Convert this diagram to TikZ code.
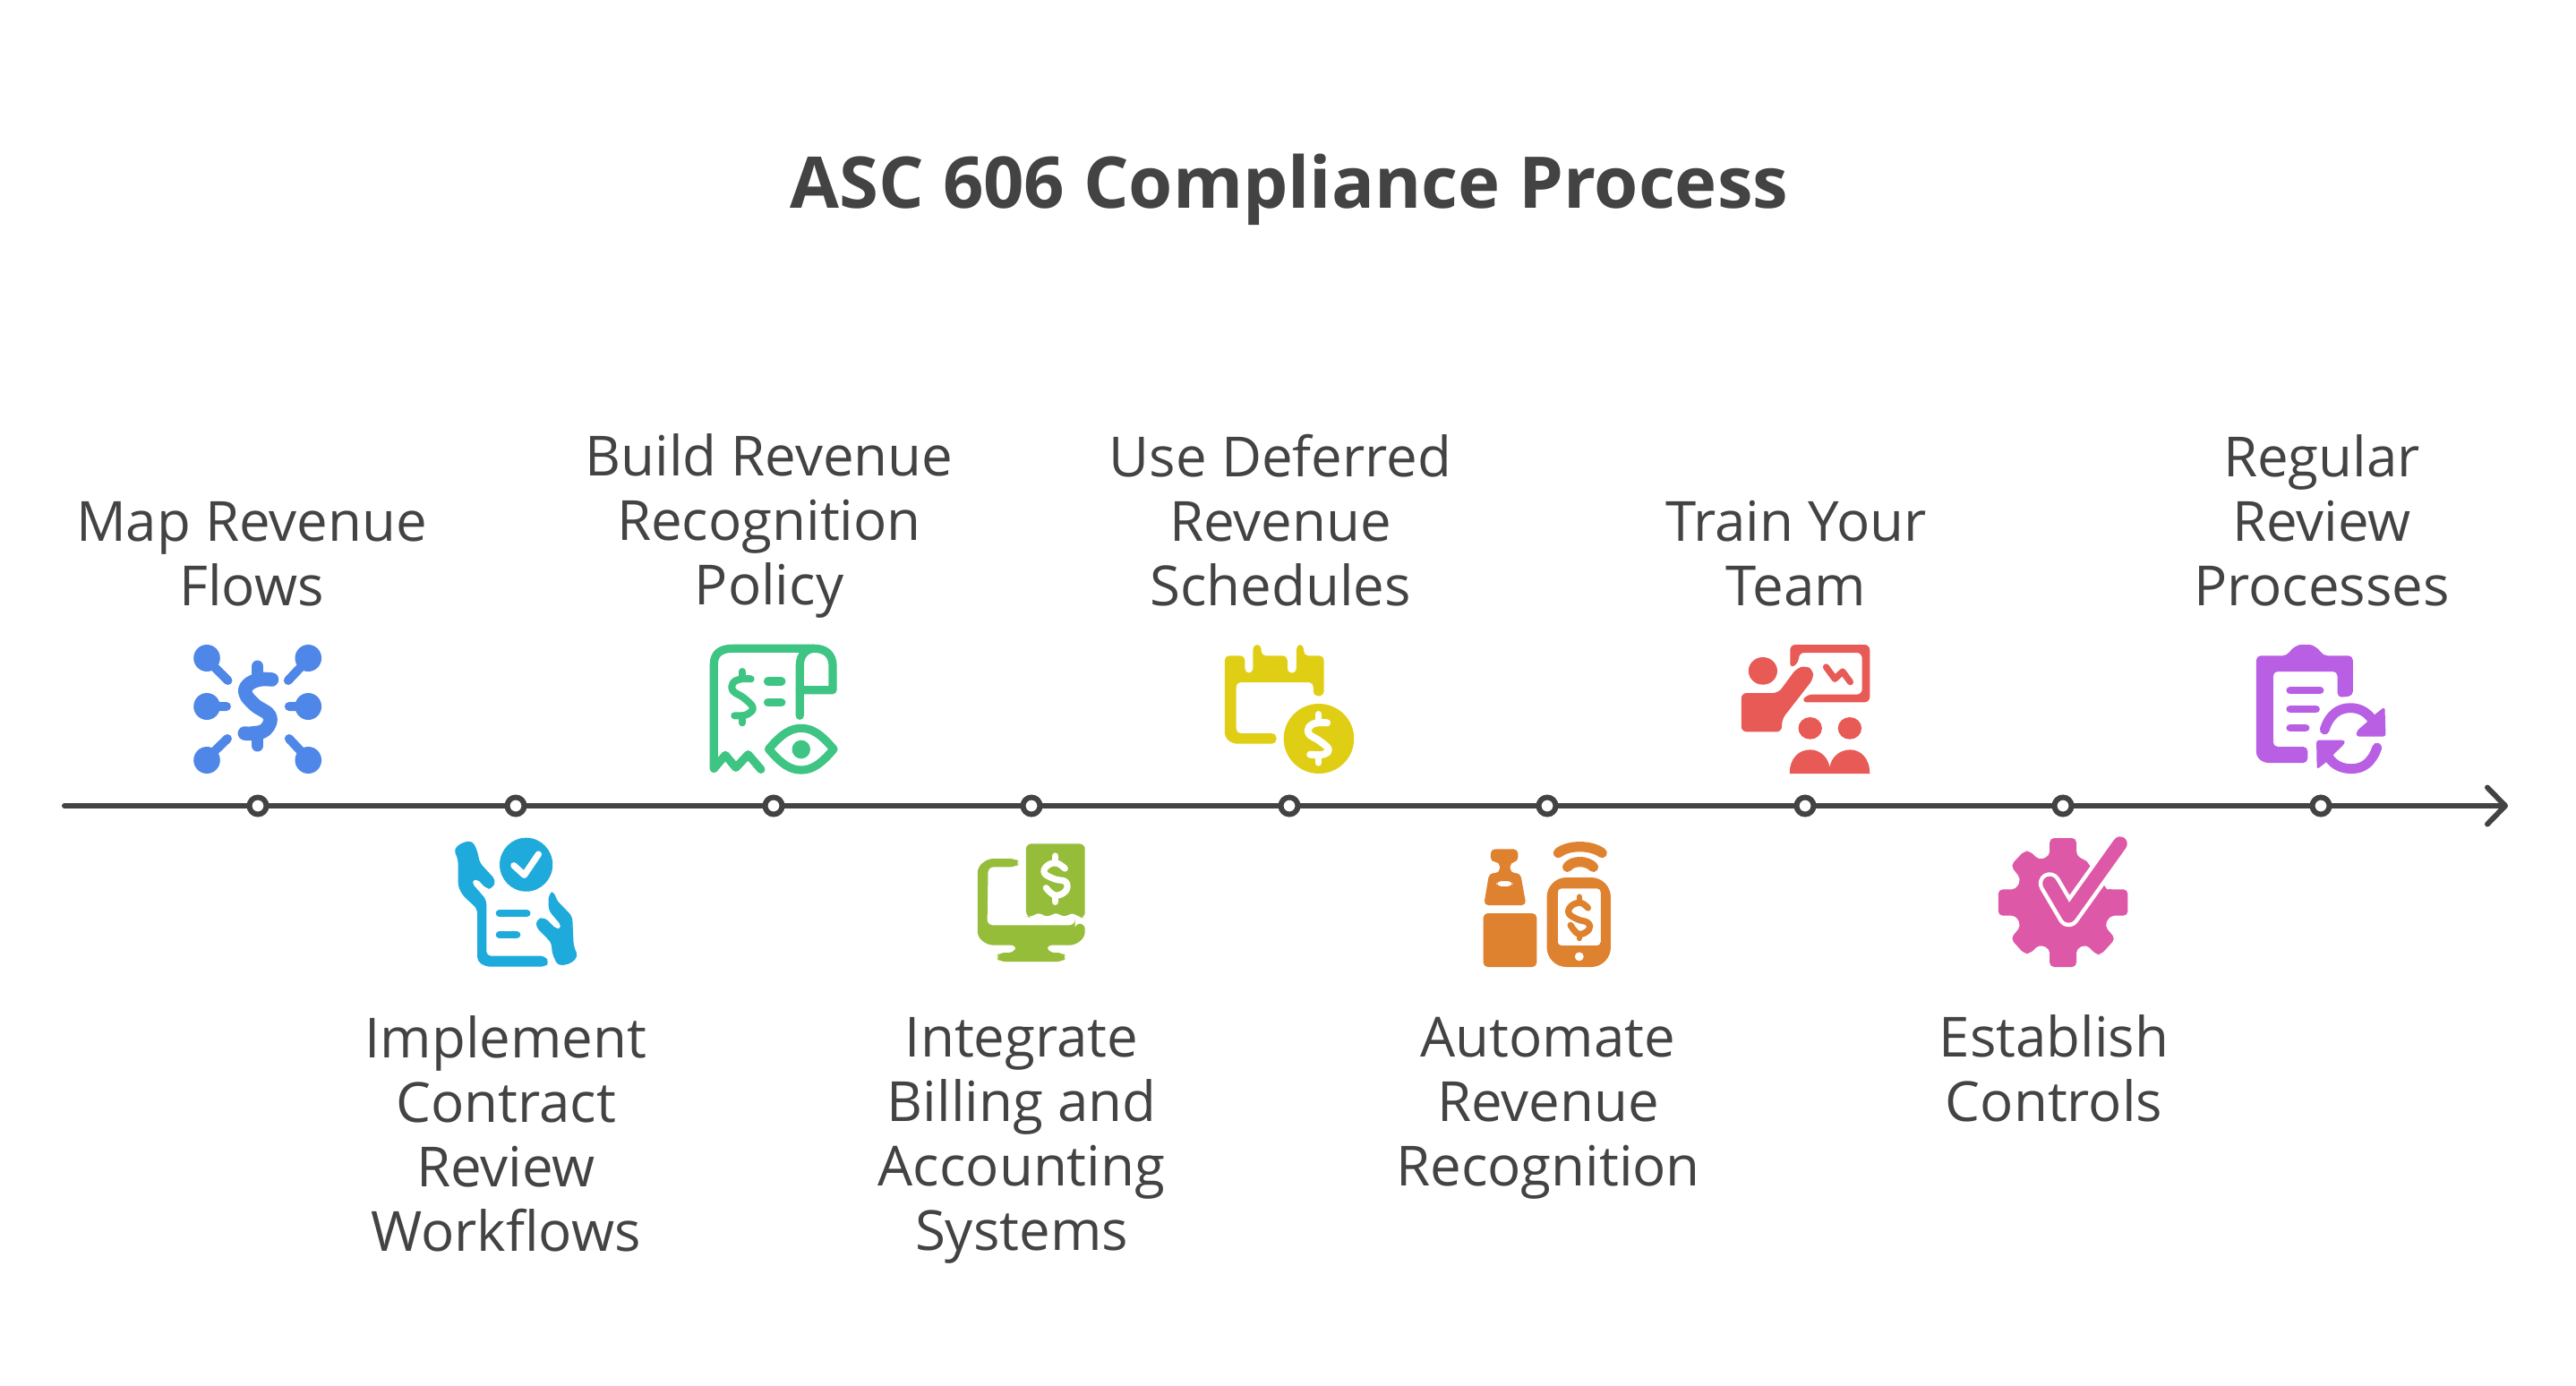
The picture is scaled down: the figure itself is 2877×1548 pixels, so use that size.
\documentclass[tikz,border=0pt]{standalone}
\usepackage{fontspec}
\setmainfont{Open Sans}
\usetikzlibrary{arrows.meta}
\definecolor{ink}{HTML}{434343}
\definecolor{cBlue}{HTML}{4F87E8}
\definecolor{cGreen}{HTML}{3EC483}
\definecolor{cCyan}{HTML}{1EAADB}
\definecolor{cLime}{HTML}{95BD3A}
\definecolor{cYellow}{HTML}{E0CE15}
\definecolor{cOrange}{HTML}{DF8230}
\definecolor{cRed}{HTML}{E85A55}
\definecolor{cPink}{HTML}{DE58A8}
\definecolor{cPurple}{HTML}{B85FE3}
\tikzset{
  lbl/.style={inner sep=0pt,align=center,text=ink,font=\fontsize{30.9}{36}\selectfont},
  ttl/.style={inner sep=0pt,text=ink,font=\fontsize{39.8}{44}\selectfont\bfseries},
  dot/.style={circle,draw=ink,fill=white,line width=3pt,minimum size=9.5pt,inner sep=0pt},
  axisline/.style={draw=ink,line width=3pt,line cap=round,-{Straight Barb[length=10pt,width=20.5pt,line width=3pt,round]}},
  zoomA/.style={shift={(180,700)},x=0.25510pt,y=-0.16667pt},
  zoomB/.style={shift={(1050,700)},x=0.25510pt,y=-0.16667pt},
  zoomC/.style={shift={(1900,700)},x=0.28699pt,y=-0.16667pt},
  st/.style={line width=#1,line cap=round,line join=round},
  rc/.style={rounded corners=#1}
}
\begin{document}
\begin{tikzpicture}[x=0.5pt,y=-0.5pt]
\useasboundingbox (0,0) rectangle (2877,1548);
\fill[white] (0,0) rectangle (2877,1548);
\node[ttl] (title) at (1440,212) {ASC 606 Compliance Process};

% axis
\coordinate (axisStart) at (72,900);
\coordinate (axisEnd) at (2801,900);
\draw[axisline] (axisStart) -- (axisEnd);
\foreach \n/\x in {1/288,2/576,3/864,4/1152,5/1440,6/1728,7/2016,8/2304,9/2592}
  \node[dot] (m\n) at (\x,900) {};

% labels
\node[lbl] (l1) at (281,619) {Map Revenue\\Flows};
\node[lbl] (l2) at (565,1266) {Implement\\Contract\\Review\\Workflows};
\node[lbl] (l3) at (859,587) {Build Revenue\\Recognition\\Policy};
\node[lbl] (l4) at (1141,1274) {Integrate\\Billing and\\Accounting\\Systems};
\node[lbl] (l5) at (1430,581) {Use Deferred\\Revenue\\Schedules};
\node[lbl] (l6) at (1729,1238) {Automate\\Revenue\\Recognition};
\node[lbl] (l7) at (2006,618) {Train Your\\Team};
\node[lbl] (l8) at (2294,1193) {Establish\\Controls};
\node[lbl] (l9) at (2593,581) {Regular\\Review\\Processes};

% icon 1: blue network dollar
\begin{scope}[zoomA]
  \fill[cBlue] (100,105) ellipse [x radius=29,y radius=45] (322,105) ellipse [x radius=29,y radius=45]
    (100,267) ellipse [x radius=29,y radius=45] (322,267) ellipse [x radius=29,y radius=45]
    (100,447) ellipse [x radius=29,y radius=45] (322,447) ellipse [x radius=29,y radius=45];
  \draw[cBlue,st=5pt] (112,128)--(146,180) (310,128)--(278,180) (115,267)--(143,267) (307,267)--(280,267)
    (112,424)--(145,375) (310,424)--(280,375);
  \draw[cBlue,st=7.8pt] plot[smooth,tension=0.7] coordinates {(242,177)(215,177)(190,195)(185,225)(205,262)(238,300)(228,345)(200,357)(183,357)};
  \draw[cBlue,st=6.8pt] (211,133)--(211,170) (211,360)--(211,398);
\end{scope}

% icon 2: green receipt
\begin{scope}[zoomA]
  \draw[cGreen,st=4.6pt] (1210,475)--(1210,125) .. controls (1210,90) and (1225,73) .. (1250,73) -- (1430,73)
     .. controls (1455,73) and (1470,95) .. (1470,130) -- (1470,212) -- (1398,212);
  \draw[cGreen,st=4.6pt] (1398,298)--(1398,130) .. controls (1398,95) and (1412,73) .. (1430,73);
  \draw[cGreen,st=4.6pt] (1210,475)--(1235,430)--(1258,472)--(1285,428)--(1313,478);
  \draw[cGreen,st=4pt] plot[smooth,tension=0.7] coordinates {(1291,175)(1270,175)(1252,188)(1252,215)(1275,238)(1295,270)(1285,292)(1270,298)(1255,298)};
  \draw[cGreen,st=4pt] (1272,150)--(1272,172) (1272,300)--(1272,322);
  \draw[cGreen,st=4.6pt] (1328,183)--(1358,183) (1328,254)--(1358,254);
  \draw[cGreen,st=4.6pt] (1330,410) .. controls (1360,355) and (1380,340) .. (1401,340) .. controls (1422,340) and (1442,355) .. (1472,410)
     .. controls (1442,465) and (1422,480) .. (1401,480) .. controls (1380,480) and (1360,465) .. (1330,410) -- cycle;
  \fill[cGreen] (1401,411) ellipse [x radius=20,y radius=31];
\end{scope}

% icon 3: cyan contract
\begin{scope}[zoomA]
  \fill[cCyan] (799,797) ellipse [x radius=58,y radius=90];
  \draw[white,st=3.6pt] (772,800)--(795,832)--(826,762);
  \fill[cCyan,rc=2.5pt] (640,745)--(660,722)--(682,717)--(693,755)--(697,790)--(733,850)--(725,878)--(712,878)--(690,842)--(678,855)--(712,915)--(712,1103)--(840,1103)--(850,1125)--(840,1139)--(712,1139)--(692,1122)--(692,945)--(660,900)--(650,870)--(650,780)--cycle;
  \draw[cCyan,st=4.4pt] (741,960)--(800,960) (741,1032)--(778,1032);
  \fill[cCyan,rc=2.5pt] (848,895)--(860,885)--(865,915)--(900,970)--(903,1070)--(913,1105)--(895,1130)--(868,1136)--(855,1090)--(855,1060)--(820,1005)--(822,980)--(838,972)--(868,1017)--(878,1005)--(848,950)--cycle;
\end{scope}

% icon 4: lime monitor
\begin{scope}[zoomB]
  \fill[cLime,rc=3pt] (188,727)--(317,727)--(317,975)--(305,975)--(290,955)--(272,975)--(253,955)--(235,975)--(215,955)--(198,975)--(188,970)--cycle;
  \draw[white,st=3.6pt] plot[smooth,tension=0.7] coordinates {(273,810)(255,792)(235,800)(228,825)(250,845)(275,855)(275,885)(252,900)(232,875)};
  \draw[white,st=3.6pt] (252,768)--(252,785) (252,905)--(252,922);
  \fill[cLime,rc=3pt] (165,777)--(175,791)--(165,805)--(105,805)--(103,1000)--(295,1000)--(295,995)--(317,995)--(317,1040)--(295,1067)--(232,1067)--(238,1092)--(268,1092)--(277,1107)--(268,1122)--(130,1122)--(122,1107)--(130,1092)--(162,1092)--(168,1067)--(105,1067)--(82,1040)--(82,805)--(105,777)--cycle;
\end{scope}

% icon 5: yellow calendar
\begin{scope}[zoomB]
  \fill[cYellow,rc=2.5pt] (623,97)--(667,97)--(667,155)--(685,155)--(685,60)--(703,60)--(703,97)--(760,97)--(760,155)--(780,155)--(780,60)--(796,60)--(796,97)--(840,97)--(840,232)--(817,232)--(817,186)--(648,186)--(648,357)--(736,357)--(736,392)--(640,392)--(623,370)--cycle;
  \fill[cYellow] (829,375) ellipse [x radius=77,y radius=117];
  \draw[white,st=4pt] plot[smooth,tension=0.7] coordinates {(847,322)(825,322)(808,335)(808,360)(830,382)(850,410)(838,428)(810,428)};
  \draw[white,st=3.6pt] (828,293)--(828,318) (828,432)--(828,456);
\end{scope}

% icon 6: orange bottle and phone
\begin{scope}[zoomB]
  \fill[cOrange,even odd rule,rc=2.5pt] (1205,745)--(1265,745)--(1265,788)--(1248,788)--(1248,825)--(1270,825)--(1283,933)--(1190,933)--(1202,825)--(1225,825)--(1225,788)--(1205,788)--cycle
    (1218,852)--(1253,852)--(1253,870)--(1218,870)--cycle;
  \fill[cOrange,rc=2.5pt] (1189,960) rectangle (1306,1140);
  \fill[cOrange,even odd rule] [rounded corners=11pt] (1328,840) rectangle (1468,1140)
     [rounded corners=2pt] (1352,877) rectangle (1446,1068)
     [sharp corners] (1399,1105) ellipse [x radius=10,y radius=15];
  \draw[cOrange,st=3.6pt] plot[smooth,tension=0.7] coordinates {(1418,942)(1402,925)(1382,935)(1376,960)(1395,980)(1418,992)(1420,1015)(1398,1030)(1380,1000)};
  \draw[cOrange,st=3.2pt] (1399,905)--(1399,922) (1399,1032)--(1399,1044);
  \draw[cOrange,st=5.6pt] (1353,758) .. controls (1375,730) and (1425,730) .. (1449,758);
  \draw[cOrange,st=5.6pt] (1373,805) .. controls (1385,782) and (1415,782) .. (1430,805);
\end{scope}

% icon 7: red trainer
\begin{scope}[zoomC]
  \fill[cRed] (120,148) ellipse [x radius=28,y radius=46];
  \fill[cRed,rc=3pt] (78,352)--(78,222)--(150,222)--(185,140)--(203,130)--(218,145)--(218,175)--(157,310)--(157,352)--cycle;
  \fill[cRed,rc=3pt] (173,140)--(173,60)--(328,60)--(328,253)--(195,253)--(205,227)--(313,227)--(313,87)--(190,87)--(190,120)--cycle;
  \draw[cRed,st=3.6pt] (243,135)--(260,175)--(275,150)--(290,185);
  \fill[cRed] (212,340) ellipse [x radius=23,y radius=37] (289,340) ellipse [x radius=23,y radius=37];
  \fill[cRed] (172,492) .. controls (172,440) and (190,412) .. (212,412) .. controls (232,412) and (248,440) .. (250,472)
     .. controls (252,440) and (268,412) .. (290,412) .. controls (310,412) and (328,440) .. (328,492) -- cycle;
\end{scope}

% icon 8: pink gear
\begin{scope}[zoomC]
  \fill[cPink,rc=2.5pt] (678,708)--(730,708)--(730,768)--(750,785)--(800,850)--(790,880)--(830,880)--(830,968)--(795,968)--(785,1003)--(806,1045)--(778,1098)--(768,1098)--(750,1065)--(730,1078)--(730,1140)--(678,1140)--(678,1078)--(657,1065)--(640,1095)--(628,1095)--(602,1045)--(622,1003)--(613,968)--(578,968)--(578,880)--(613,880)--(622,845)--(602,800)--(628,752)--(640,752)--(657,782)--(678,768)--cycle;
  \fill[white] (810,775)--(850,775)--(850,860)--(790,880)--(750,785)--cycle;
  \draw[white,st=12.5pt] (678,860)--(715,968)--(815,727);
  \draw[cPink,st=8pt] (678,860)--(715,968)--(815,727);
\end{scope}

% icon 9: purple clipboard
\begin{scope}[zoomC]
  \fill[cPurple,rc=2.5pt] (1080,97)--(1140,97) .. controls (1150,70) and (1162,60) .. (1175,60) .. controls (1188,60) and (1200,70) .. (1210,97) -- (1268,97)--(1268,232)--(1238,237)--(1238,150)--(1113,150)--(1113,402)--(1180,402)--(1180,456)--(1095,456)--(1080,435)--cycle;
  \draw[cPurple,st=4.4pt] (1146,213)--(1204,213) (1146,276)--(1196,276) (1146,339)--(1176,339);
  \draw[cPurple,st=5.4pt] (1213,345) .. controls (1222,295) and (1240,272) .. (1263,272) .. controls (1280,272) and (1295,285) .. (1305,310);
  \fill[cPurple,rc=1.5pt] (1330,268)--(1332,368)--(1275,368)--(1275,350)--(1295,320)--(1310,295)--cycle;
  \draw[cPurple,st=5.4pt] (1315,405) .. controls (1305,455) and (1288,476) .. (1265,476) .. controls (1248,476) and (1232,465) .. (1222,440);
  \fill[cPurple,rc=1.5pt] (1197,380)--(1252,380)--(1252,392)--(1232,425)--(1222,445)--(1215,455)--(1198,478)--cycle;
\end{scope}
\end{tikzpicture}
\end{document}
